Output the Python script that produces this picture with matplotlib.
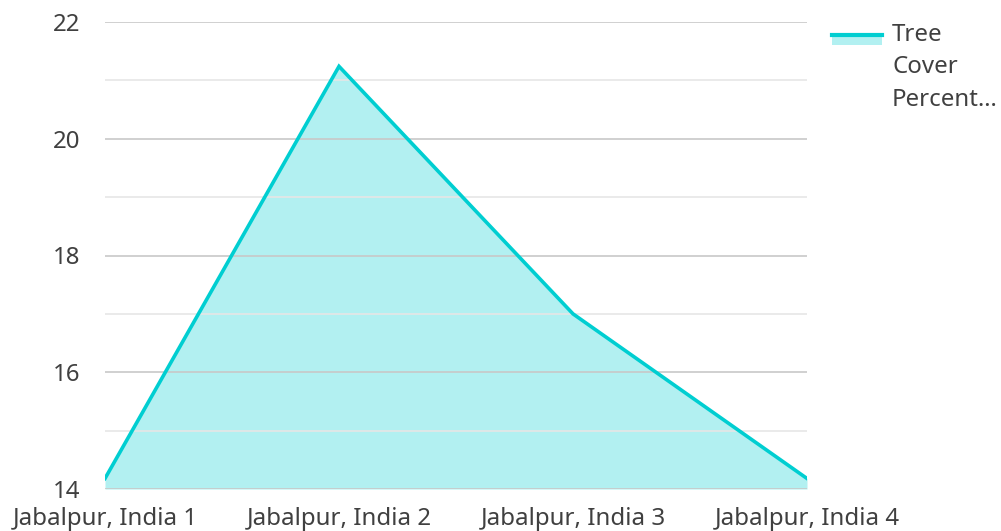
import matplotlib
matplotlib.use("Agg")
import matplotlib.pyplot as plt
from matplotlib.patches import Rectangle
from matplotlib.lines import Line2D

categories = ["Jabalpur, India 1", "Jabalpur, India 2", "Jabalpur, India 3", "Jabalpur, India 4"]
values = [14.18, 21.24, 17.0, 14.18]
series_name = "Tree\nCover\nPercent\u2026"
y_ticks = [14, 16, 18, 20, 22]

plt.rcParams['font.family'] = ['Noto Sans', 'DejaVu Sans']
W, H = 1001, 531
fig = plt.figure(figsize=(W / 100, H / 100), dpi=100)
ax = fig.add_axes([105 / W, 1 - 489 / H, (807 - 105) / W, (489 - 22) / H])

line_c = "#00CED1"
fs = 17.3
x = list(range(len(categories)))
ax.fill_between(x, values, 14, color=line_c, alpha=0.3, lw=0, zorder=1)
ax.plot(x, values, color=line_c, lw=2.6, zorder=3, solid_joinstyle='miter')

ax.set_xlim(0, len(categories) - 1)
ax.set_ylim(14, 22)
ax.set_yticks(y_ticks)
ax.set_yticks([15, 17, 19, 21], minor=True)
ax.grid(True, which='major', axis='y', color='#c8c8c8', lw=1.2, zorder=2)
ax.grid(True, which='minor', axis='y', color='#e6e6e6', lw=1.2, zorder=2)
ax.set_axisbelow(False)
for s in ax.spines.values():
    s.set_visible(False)
ax.tick_params(axis='both', which='both', length=0, labelsize=fs, colors='#404040')
ax.tick_params(axis='y', pad=18)
ax.tick_params(axis='x', pad=13)
ax.set_xticks(x)
ax.set_xticklabels(categories)

# legend
fig.add_artist(Rectangle((832 / W, 1 - 45 / H), 50 / W, 11 / H, transform=fig.transFigure,
                         color=line_c, alpha=0.3, lw=0))
fig.add_artist(Line2D([832 / W, 882 / W], [1 - 35 / H, 1 - 35 / H], transform=fig.transFigure,
                      color=line_c, lw=3))
fig.text(892 / W, 1 - 23 / H, series_name, ha='left', va='top', fontsize=fs,
         color='#404040', linespacing=1.47)

fig.savefig("out.png", dpi=100)
